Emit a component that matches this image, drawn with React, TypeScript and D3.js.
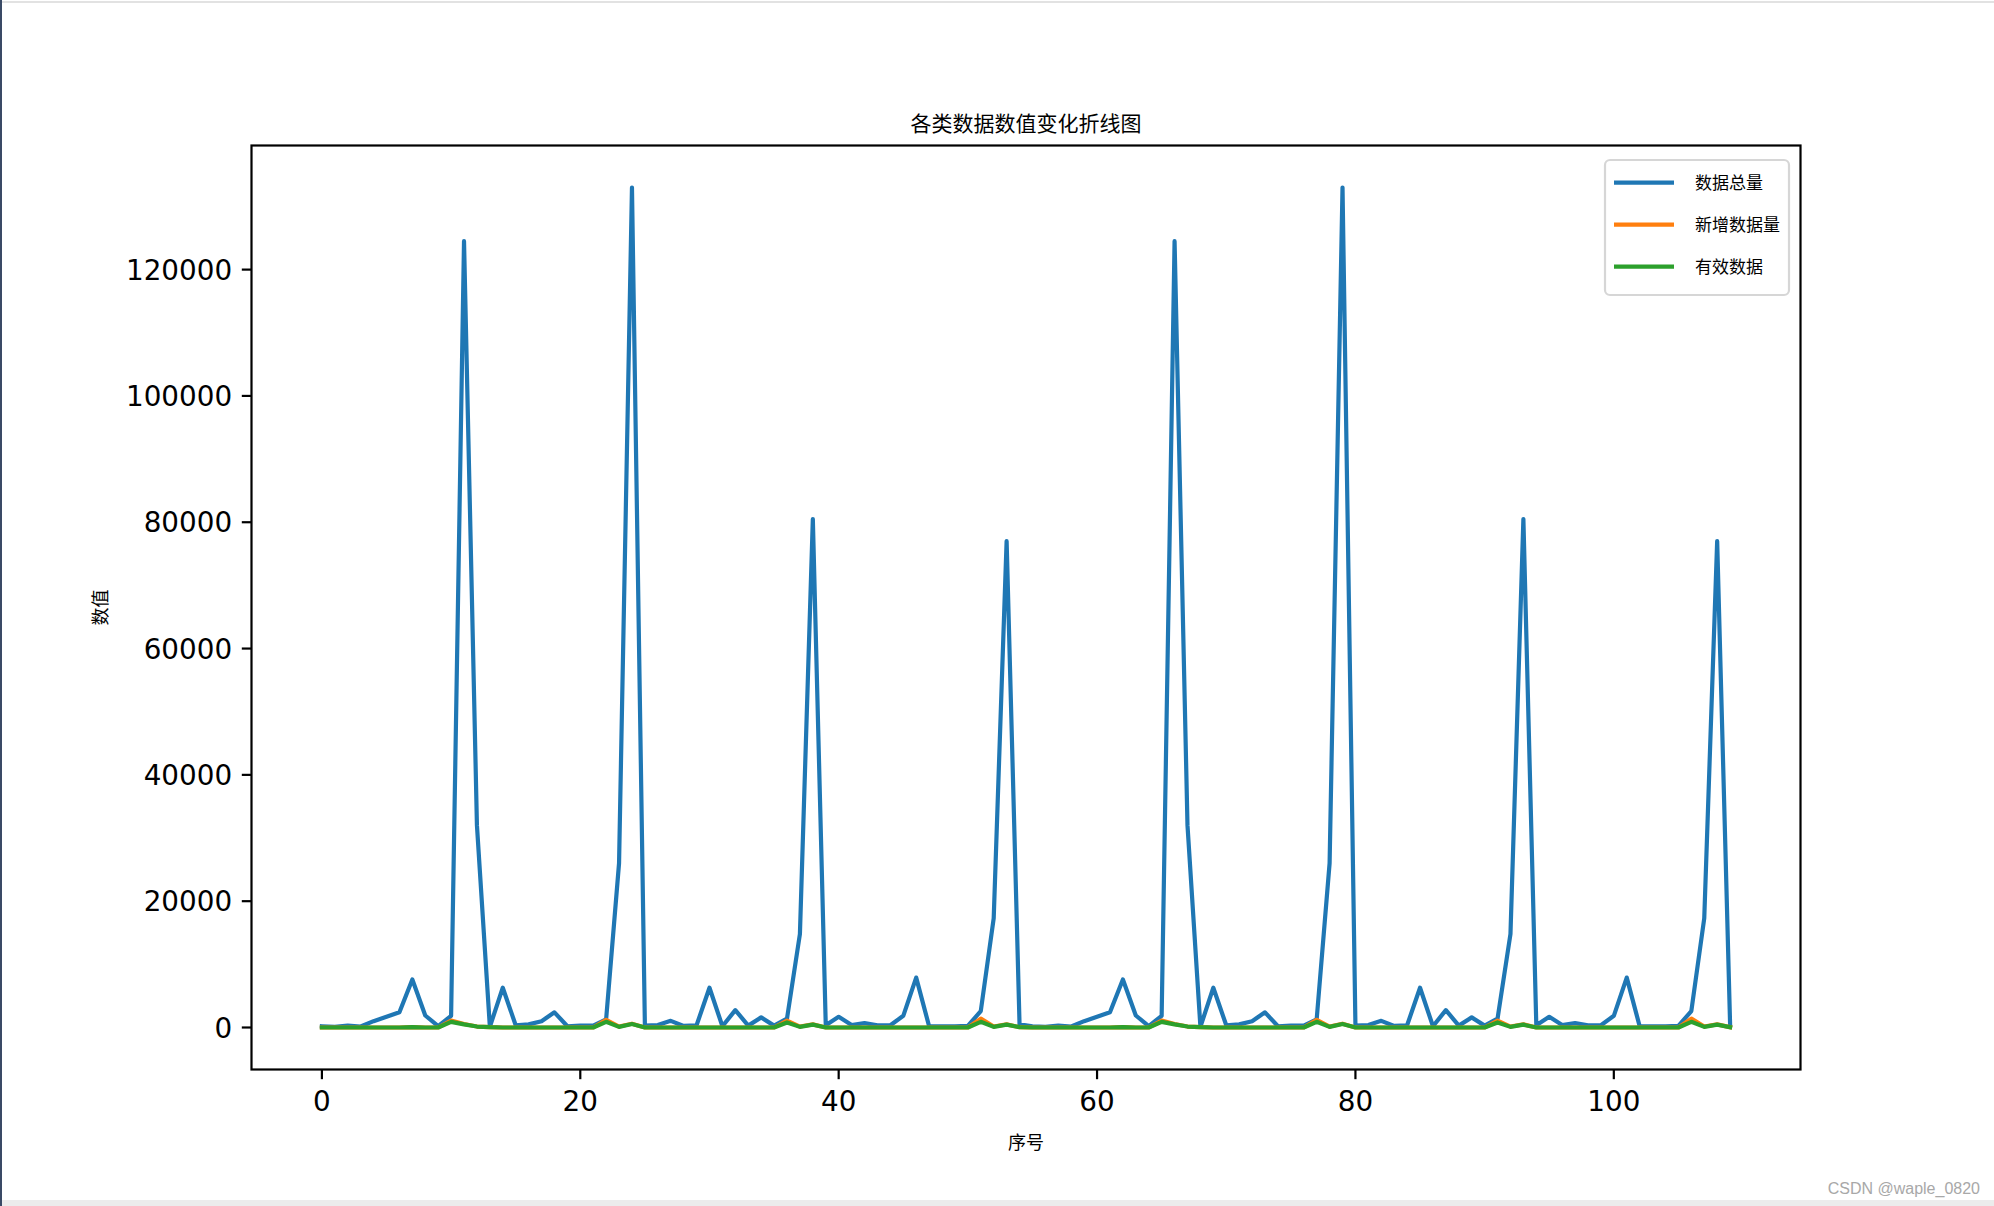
import React from "react";
import * as d3 from "d3";

// 画布尺寸与坐标区
const WIDTH = 1994;
const HEIGHT = 1206;
const LEFT = 251.5;
const RIGHT = 1800.5;
const TOP = 145.5;
const BOTTOM = 1069.5;

// 数据（0..109）
const total: number[] = [
  200, 100, 300, 150, 1000, 1700, 2400, 7600, 1900, 200,
  1850, 124500, 32000, 100, 6300, 350, 500, 1000, 2400, 200,
  300, 300, 1300, 26000, 133000, 300, 400, 1050, 250, 350,
  6300, 200, 2750, 300, 1600, 300, 1400, 14800, 80500, 350,
  1700, 400, 700, 350, 350, 1850, 7900, 200, 200, 200,
  250, 2600, 17300, 77000, 500,
  200, 100, 300, 150, 1000, 1700, 2400, 7600, 1900, 200,
  1850, 124500, 32000, 100, 6300, 350, 500, 1000, 2400, 200,
  300, 300, 1300, 26000, 133000, 300, 400, 1050, 250, 350,
  6300, 200, 2750, 300, 1600, 300, 1400, 14800, 80500, 350,
  1700, 400, 700, 350, 350, 1850, 7900, 200, 200, 200,
  250, 2600, 17300, 77000, 500,
];

const added: number[] = [
  0, 0, 0, 0, 0, 0, 0, 50, 0, 0,
  1100, 550, 150, 50, 0, 0, 0, 0, 0, 0,
  0, 0, 1200, 150, 600, 0, 0, 0, 0, 0,
  0, 0, 0, 0, 0, 0, 1100, 150, 500, 0,
  0, 0, 0, 0, 0, 0, 0, 0, 0, 0,
  0, 1400, 150, 500, 50,
  0, 0, 0, 0, 0, 0, 0, 50, 0, 0,
  1100, 550, 150, 50, 0, 0, 0, 0, 0, 0,
  0, 0, 1200, 150, 600, 0, 0, 0, 0, 0,
  0, 0, 0, 0, 0, 0, 1100, 150, 500, 0,
  0, 0, 0, 0, 0, 0, 0, 0, 0, 0,
  0, 1400, 150, 500, 50,
];

const valid: number[] = [
  0, 0, 0, 0, 0, 0, 0, 50, 0, 0,
  900, 500, 150, 50, 0, 0, 0, 0, 0, 0,
  0, 0, 900, 100, 550, 0, 0, 0, 0, 0,
  0, 0, 0, 0, 0, 0, 800, 100, 450, 0,
  0, 0, 0, 0, 0, 0, 0, 0, 0, 0,
  0, 900, 100, 450, 50,
  0, 0, 0, 0, 0, 0, 0, 50, 0, 0,
  900, 500, 150, 50, 0, 0, 0, 0, 0, 0,
  0, 0, 900, 100, 550, 0, 0, 0, 0, 0,
  0, 0, 0, 0, 0, 0, 800, 100, 450, 0,
  0, 0, 0, 0, 0, 0, 0, 0, 0, 0,
  0, 900, 100, 450, 50,
];

const seriesNames = ["数据总量", "新增数据量", "有效数据"];
const colors = ["#1f77b4", "#ff7f0e", "#2ca02c"];
const xTicks = [0, 20, 40, 60, 80, 100];
const yTicks = [0, 20000, 40000, 60000, 80000, 100000, 120000];

const TICK_FONT = "'DejaVu Sans', sans-serif";
const CJK_FONT = "'Noto Sans CJK SC', sans-serif";

const App: React.FC = () => {
  const series = [total, added, valid];
  const n = total.length;

  // matplotlib 默认 5% 边距
  const xMax = n - 1;
  const xPad = xMax * 0.05;
  const allVals = series.flat();
  const yMin = d3.min(allVals) || 0;
  const yMaxV = d3.max(allVals) || 0;
  const yPad = (yMaxV - yMin) * 0.05;

  const x = d3.scaleLinear().domain([-xPad, xMax + xPad]).range([LEFT, RIGHT]);
  const y = d3.scaleLinear().domain([yMin - yPad, yMaxV + yPad]).range([BOTTOM, TOP]);

  const line = d3
    .line<number>()
    .x((_, i) => x(i))
    .y((d) => y(d));

  // 图例布局
  const legendLeft = 1605;
  const legendW = 184;
  const legendTop = 160;
  const legendH = 135;

  return (
    <svg
      width={WIDTH}
      height={HEIGHT}
      style={{ position: "absolute", left: 0, top: 0, background: "#fff" }}
    >
      <rect x={0} y={0} width={WIDTH} height={HEIGHT} fill="#fff" />
      {/* 截图边缘 */}
      <rect x={0} y={1} width={WIDTH} height={2} fill="#e2e2e2" />
      <rect x={0} y={1200} width={WIDTH} height={6} fill="#ececec" />
      <rect x={0} y={0} width={2} height={HEIGHT} fill="#3a4a66" />

      <text
        x={(LEFT + RIGHT) / 2}
        y={131}
        textAnchor="middle"
        fontFamily={CJK_FONT}
        fontSize={21}
        fill="#000"
      >
        各类数据数值变化折线图
      </text>

      <g>
        {series.map((s, k) => (
          <path
            key={k}
            d={line(s) || ""}
            fill="none"
            stroke={colors[k]}
            strokeWidth={4.2}
            strokeLinejoin="round"
            strokeLinecap="square"
          />
        ))}
      </g>

      <rect
        x={LEFT}
        y={TOP}
        width={RIGHT - LEFT}
        height={BOTTOM - TOP}
        fill="none"
        stroke="#000"
        strokeWidth={2.2}
      />

      {xTicks.map((t) => (
        <g key={t}>
          <line x1={x(t)} x2={x(t)} y1={BOTTOM} y2={BOTTOM + 9.7} stroke="#000" strokeWidth={2.2} />
          <text
            x={x(t)}
            y={1111}
            textAnchor="middle"
            fontFamily={TICK_FONT}
            fontSize={27.8}
            fill="#000"
          >
            {t}
          </text>
        </g>
      ))}

      {yTicks.map((t) => (
        <g key={t}>
          <line x1={LEFT - 9.7} x2={LEFT} y1={y(t)} y2={y(t)} stroke="#000" strokeWidth={2.2} />
          <text
            x={LEFT - 19.4}
            y={y(t)}
            dy="0.36em"
            textAnchor="end"
            fontFamily={TICK_FONT}
            fontSize={27.8}
            fill="#000"
          >
            {t}
          </text>
        </g>
      ))}

      <text
        x={(LEFT + RIGHT) / 2}
        y={1149}
        textAnchor="middle"
        fontFamily={CJK_FONT}
        fontSize={18}
        fill="#000"
      >
        序号
      </text>
      <text
        transform={`translate(101, ${(TOP + BOTTOM) / 2}) rotate(-90)`}
        textAnchor="middle"
        dy="0.35em"
        fontFamily={CJK_FONT}
        fontSize={18}
        fill="#000"
      >
        数值
      </text>

      <g>
        <rect
          x={legendLeft}
          y={legendTop}
          width={legendW}
          height={legendH}
          rx={5}
          fill="#fff"
          fillOpacity={0.8}
          stroke="#d6d6d6"
          strokeWidth={2.2}
        />
        {seriesNames.map((name, k) => {
          const ly = 182.7 + k * 42;
          return (
            <g key={name}>
              <line
                x1={legendLeft + 9}
                x2={legendLeft + 69}
                y1={ly}
                y2={ly}
                stroke={colors[k]}
                strokeWidth={4.2}
              />
              <text
                x={legendLeft + 90}
                y={ly}
                dy="0.36em"
                fontFamily={CJK_FONT}
                fontSize={17}
                fill="#000"
              >
                {name}
              </text>
            </g>
          );
        })}
      </g>

      <text
        x={1980}
        y={1194}
        textAnchor="end"
        fontFamily="'Liberation Sans', sans-serif"
        fontSize={16}
        fill="#a8a8a8"
      >
        CSDN @waple_0820
      </text>
    </svg>
  );
};

export default App;
